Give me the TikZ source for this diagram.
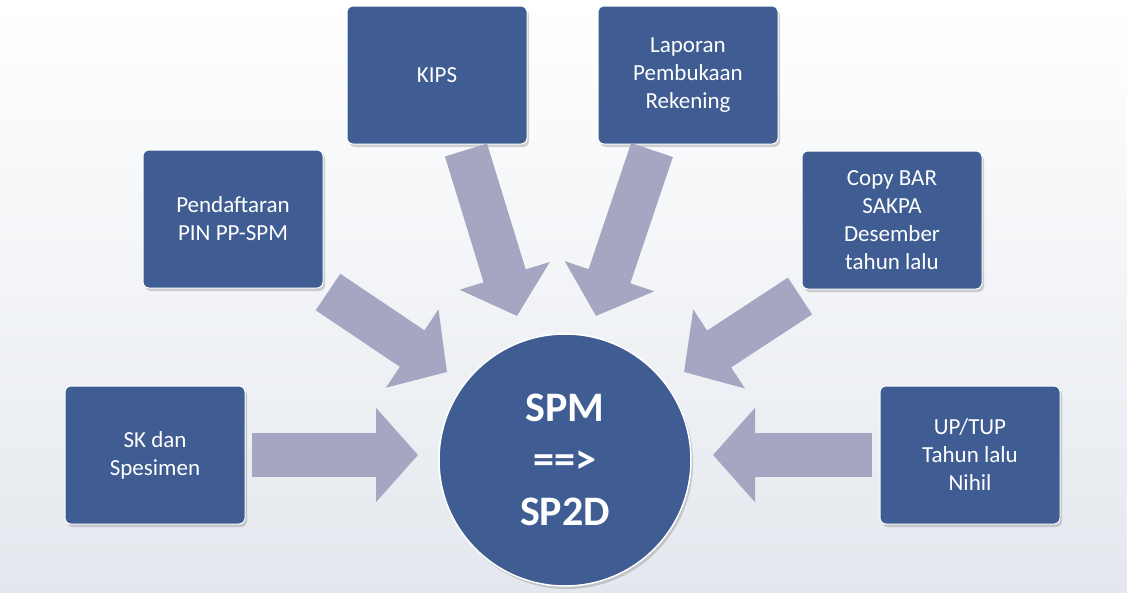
\documentclass[tikz,border=0pt]{standalone}
\usepackage{fontspec}
\setmainfont{Carlito}
\usetikzlibrary{arrows.meta,shadows}
\definecolor{boxblue}{HTML}{3F5D92}
\definecolor{arrowgray}{HTML}{A4A6C2}
\definecolor{bgtop}{HTML}{FFFFFF}
\definecolor{bgbot}{HTML}{E4E8EE}
\tikzset{
  box/.style={draw=white, line width=1pt, fill=boxblue, rounded corners=6pt,
    minimum width=180pt, minimum height=138pt, align=center, text=white,
    font=\fontsize{23}{28}\selectfont, drop shadow={shadow xshift=2pt, shadow yshift=-3pt, opacity=0.35}},
  blockarrow/.style={arrowgray, line width=44pt, -{Triangle[length=42pt,width=92pt]}},
}
\begin{document}
\begin{tikzpicture}[x=1pt,y=-1pt]
\clip (0,0) rectangle (1127,592);
\shade[top color=bgtop, bottom color=bgbot] (0,0) rectangle (1127,592);
\useasboundingbox (0,0) rectangle (1127,592);
% center circle
\node[circle, minimum size=252pt, fill=boxblue, draw=white, line width=1.5pt, text=white,
  font=\bfseries\fontsize{42}{52}\selectfont, align=center,
  drop shadow={shadow xshift=2pt, shadow yshift=-3pt, opacity=0.35}] (c) at (565,460) {SPM\\==>\\SP2D};
% boxes
\node[box] (sk) at (155,455) {SK dan\\Spesimen};
\node[box] (pin) at (233,219) {Pendaftaran\\PIN PP-SPM};
\node[box] (kips) at (437,75) {KIPS};
\node[box] (lap) at (688,75) {Laporan\\Pembukaan\\Rekening};
\node[box] (bar) at (892,220) {Copy BAR\\SAKPA\\Desember\\tahun lalu};
\node[box] (up) at (970,455) {UP/TUP\\Tahun lalu\\Nihil};
% arrow coordinates
\coordinate (a1s) at (252,455); \coordinate (a1e) at (418,455);
\coordinate (a2s) at (328,292); \coordinate (a2e) at (447,372);
\coordinate (a3s) at (466,150); \coordinate (a3e) at (517,316);
\coordinate (a4s) at (652,150); \coordinate (a4e) at (596,316);
\coordinate (a5s) at (800,296); \coordinate (a5e) at (684,372);
\coordinate (a6s) at (872,455); \coordinate (a6e) at (713,455);
\draw[blockarrow] (a1s) -- (a1e);
\draw[blockarrow] (a2s) -- (a2e);
\draw[blockarrow] (a3s) -- (a3e);
\draw[blockarrow] (a4s) -- (a4e);
\draw[blockarrow] (a5s) -- (a5e);
\draw[blockarrow] (a6s) -- (a6e);
\end{tikzpicture}
\end{document}
